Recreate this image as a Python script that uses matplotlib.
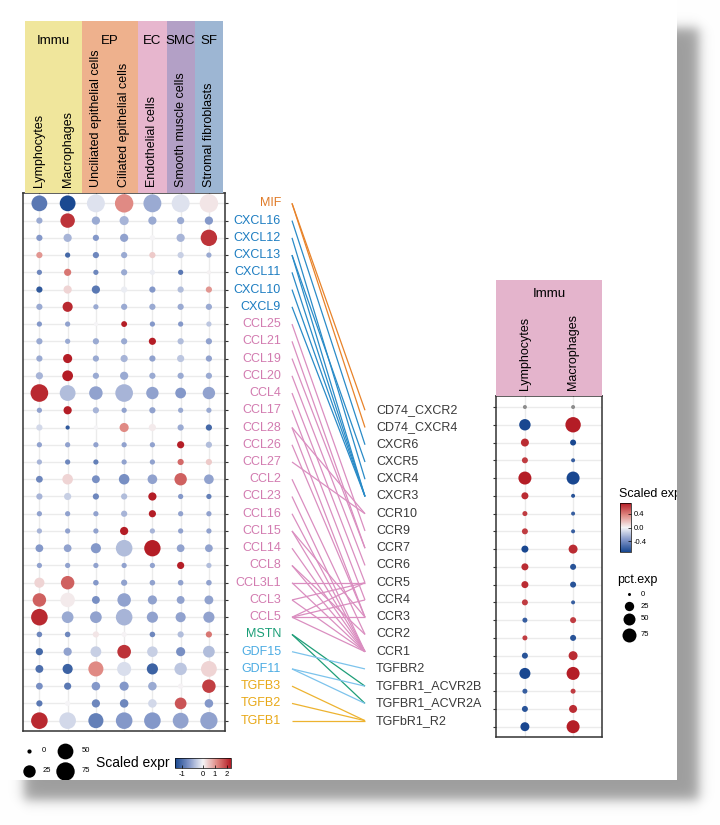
import numpy as np
import matplotlib.pyplot as plt
from matplotlib.colors import LinearSegmentedColormap, TwoSlopeNorm
from matplotlib.cm import ScalarMappable
from matplotlib.patches import Rectangle

plt.rcParams['font.family'] = ['Liberation Sans', 'DejaVu Sans']

# ---------------- dati ----------------
cell_types = ['Lymphocytes', 'Macrophages', 'Unciliated epithelial cells',
              'Ciliated epithelial cells', 'Endothelial cells',
              'Smooth muscle cells', 'Stromal fibroblasts']
cell_groups = ['Immu', 'EP', 'EC', 'SMC', 'SF']
group_size = [2, 2, 1, 1, 1]
group_colors = ['#F0E69C', '#EEB18D', '#E7B6CE', '#B3A0C6', '#9DB6D3']

ligands = ['MIF', 'CXCL16', 'CXCL12', 'CXCL13', 'CXCL11', 'CXCL10', 'CXCL9',
           'CCL25', 'CCL21', 'CCL19', 'CCL20', 'CCL4', 'CCL17', 'CCL28', 'CCL26',
           'CCL27', 'CCL2', 'CCL23', 'CCL16', 'CCL15', 'CCL14', 'CCL8', 'CCL3L1',
           'CCL3', 'CCL5', 'MSTN', 'GDF15', 'GDF11', 'TGFB3', 'TGFB2', 'TGFB1']
lig_family = ['MIF'] + ['CXCL'] * 6 + ['CCL'] * 18 + ['MSTN'] + ['GDF'] * 2 + ['TGFB'] * 3
family_text = {'MIF': '#E07B28', 'CXCL': '#1D7DC1', 'CCL': '#D27BB0',
               'MSTN': '#1A9E77', 'GDF': '#4CACE3', 'TGFB': '#E8A817'}
family_line = {'MIF': '#E8832A', 'CXCL': '#2A8BC7', 'CCL': '#DA8EC0',
               'MSTN': '#1E9E78', 'GDF': '#7CC3EC', 'TGFB': '#EDB330'}

# scaled expression (righe = ligandi, colonne = tipi cellulari)
lig_expr = [
    [-0.91, -1.30, -0.13, 1.15, -0.52, -0.13, 0.17],
    [-0.52, 2.07, -0.52, -0.45, -0.52, -0.52, -0.65],
    [-0.65, -0.45, -0.65, -0.58, 0.00, -0.45, 2.07],
    [1.03, -1.04, -0.78, -0.52, 0.46, -0.26, -0.52],
    [-0.78, 1.38, -0.78, -0.52, -0.06, -0.91, 0.05],
    [-1.17, 0.35, -0.91, -0.06, -0.65, -0.39, 1.03],
    [-0.52, 2.18, -0.52, -0.52, -0.52, -0.52, -0.52],
    [-0.65, -0.58, 0.00, 2.30, -0.65, -0.65, -0.33],
    [-0.52, -0.52, -0.52, -0.52, 2.30, -0.39, -0.58],
    [-0.52, 2.30, -0.52, -0.45, -0.58, -0.33, -0.58],
    [-0.45, 2.30, -0.52, -0.52, -0.52, -0.52, -0.52],
    [2.18, -0.39, -0.58, -0.45, -0.58, -0.65, -0.58],
    [-0.58, 2.30, -0.45, -0.58, -0.58, -0.52, -0.52],
    [-0.20, -1.17, 0.00, 1.15, 0.12, -0.52, -1.04],
    [-0.58, -0.58, -0.58, -0.58, -0.58, 2.30, -0.39],
    [-0.45, -0.78, -0.85, -0.58, -0.58, 1.50, 0.46],
    [-0.78, 0.35, -0.72, -0.72, -0.58, 1.60, -0.58],
    [-0.45, -0.26, -0.78, -0.39, 2.30, -0.65, -0.85],
    [-0.58, -0.58, -0.58, -0.45, 2.30, -0.58, -0.58],
    [-0.45, -0.58, -0.58, 2.30, -0.45, -0.58, -0.58],
    [-0.65, -0.58, -0.65, -0.39, 2.30, -0.58, -0.58],
    [-0.58, -0.58, -0.58, -0.58, -0.58, 2.30, -0.39],
    [0.35, 1.60, -0.65, -0.58, -0.58, -0.58, -0.58],
    [1.60, 0.12, -0.72, -0.58, -0.58, -0.58, -0.58],
    [2.18, -0.52, -0.58, -0.45, -0.58, -0.58, -0.58],
    [-0.78, -0.78, 0.17, 0.02, -0.78, -0.39, 1.38],
    [-1.04, -0.58, -0.26, 2.07, -0.26, -0.72, -0.39],
    [-0.98, -1.10, 1.15, -0.16, -1.10, -0.33, 0.35],
    [-0.72, -0.91, -0.65, -0.65, -0.52, 0.02, 1.95],
    [-0.91, 0.00, -0.78, -0.78, -0.20, 1.72, -0.65],
    [2.18, -0.20, -0.85, -0.65, -0.65, -0.58, -0.58],
]
# percentuale di cellule che esprimono
lig_pct = [
    [50, 50, 70, 75, 70, 70, 75],
    [1.5, 39, 6, 9, 6, 3.3, 6],
    [1.5, 6, 1.5, 6, 0.5, 6, 55],
    [1.5, 0.4, 1.5, 1.5, 1.5, 1.5, 0.4],
    [0.4, 3.3, 0.4, 1.5, 0.4, 0.4, 0],
    [1.5, 6, 6, 1.5, 1.5, 1.5, 1.5],
    [1.5, 13, 0.4, 1.5, 1.5, 1.5, 1.5],
    [0.4, 0.4, 0, 1.0, 0.4, 0.4, 0.4],
    [1.5, 0.4, 1.5, 1.5, 3.3, 1.5, 1.5],
    [1.5, 9, 1.5, 3.3, 1.5, 3.3, 1.5],
    [3.3, 16, 1.5, 6, 1.5, 1.5, 1.5],
    [67, 50, 32, 67, 25, 16, 25],
    [0.4, 6, 1.5, 0.4, 1.5, 0.4, 0.4],
    [1.5, 0, 0, 9, 3.3, 1.5, 1.5],
    [0.4, 0.4, 0.4, 0.4, 0.4, 3.3, 1.5],
    [0.4, 0.4, 0.4, 0.4, 0.4, 1.5, 1.5],
    [2.5, 15, 5, 15, 11, 25, 11],
    [1.5, 3.3, 1.5, 1.5, 6, 0.4, 0.4],
    [0.4, 0.4, 0.4, 1.5, 3.3, 0.4, 0.4],
    [0.4, 0.4, 0.4, 6, 0.4, 0.4, 0.4],
    [4.7, 4.7, 13, 57, 55, 4.7, 4.7],
    [0.4, 0.4, 0.4, 0.4, 0.4, 3.3, 0.4],
    [13, 32, 0.7, 1.5, 0.7, 0.7, 0.7],
    [32, 39, 5, 32, 9, 5, 8],
    [57, 21, 21, 57, 18, 13, 18],
    [0.7, 0.7, 1.5, 0.4, 0.7, 1.5, 1.5],
    [3.3, 6, 16, 33, 15, 9, 21],
    [5, 13, 44, 36, 18, 25, 50],
    [2.5, 3.3, 7, 9, 7, 0.4, 32],
    [1.5, 0.4, 6, 7, 7, 21, 7],
    [57, 57, 44, 57, 57, 50, 63],
]

receptors = ['CD74_CXCR2', 'CD74_CXCR4', 'CXCR6', 'CXCR5', 'CXCR4', 'CXCR3',
             'CCR10', 'CCR9', 'CCR7', 'CCR6', 'CCR5', 'CCR4', 'CCR3', 'CCR2',
             'CCR1', 'TGFBR2', 'TGFBR1_ACVR2B', 'TGFBR1_ACVR2A', 'TGFbR1_R2']
rec_cells = ['Lymphocytes', 'Macrophages']
rec_expr = [
    [np.nan, np.nan], [-0.70, 0.70], [0.65, -0.70], [0.60, -0.60], [0.70, -0.70],
    [0.65, -0.65], [0.60, -0.60], [0.60, -0.60], [-0.70, 0.65], [0.65, -0.65],
    [0.65, -0.65], [0.60, -0.60], [-0.60, 0.60], [0.60, -0.65], [-0.65, 0.65],
    [-0.70, 0.70], [-0.60, 0.60], [-0.65, 0.65], [-0.70, 0.70],
]
rec_pct = [
    [0.6, 0.6], [44, 95], [15.5, 5.6], [5.6, 0.6], [62, 62],
    [10, 0.6], [2.5, 0.6], [5.6, 0.6], [10, 22], [10, 5.6],
    [10, 5.6], [5.6, 0.6], [2.5, 5.6], [2.5, 5.6], [5.6, 22],
    [40, 62], [2.5, 2.5], [5.6, 15.5], [22, 62],
]

pairs = [
    ('MIF', 'CD74_CXCR2'), ('MIF', 'CD74_CXCR4'),
    ('CXCL16', 'CXCR6'), ('CXCL12', 'CXCR4'), ('CXCL13', 'CXCR5'), ('CXCL13', 'CXCR3'),
    ('CXCL11', 'CXCR3'), ('CXCL10', 'CXCR3'), ('CXCL9', 'CXCR3'),
    ('CCL25', 'CCR9'), ('CCL21', 'CCR7'), ('CCL19', 'CCR7'), ('CCL20', 'CCR6'),
    ('CCL4', 'CCR5'), ('CCL17', 'CCR4'), ('CCL28', 'CCR10'), ('CCL28', 'CCR3'),
    ('CCL26', 'CCR3'), ('CCL27', 'CCR10'), ('CCL2', 'CCR2'), ('CCL23', 'CCR1'),
    ('CCL16', 'CCR1'), ('CCL15', 'CCR1'), ('CCL15', 'CCR3'), ('CCL14', 'CCR1'),
    ('CCL8', 'CCR1'), ('CCL8', 'CCR2'), ('CCL3L1', 'CCR1'), ('CCL3L1', 'CCR5'),
    ('CCL3', 'CCR1'), ('CCL3', 'CCR5'), ('CCL5', 'CCR1'), ('CCL5', 'CCR3'),
    ('CCL5', 'CCR4'), ('CCL5', 'CCR5'),
    ('MSTN', 'TGFBR1_ACVR2B'), ('MSTN', 'TGFBR1_ACVR2A'),
    ('GDF15', 'TGFBR2'), ('GDF11', 'TGFBR1_ACVR2B'), ('GDF11', 'TGFBR1_ACVR2A'),
    ('TGFB3', 'TGFbR1_R2'), ('TGFB2', 'TGFbR1_R2'), ('TGFB1', 'TGFbR1_R2'),
]

size_legend = [0, 25, 50, 75]

# ---------------- stile ----------------
W, H = 720, 825
PT = 0.72  # 1 px in punti a dpi 100

cmap = LinearSegmentedColormap.from_list(
    'expr', [(0, '#17468F'), (0.25, '#8296C8'), (0.5, '#F5F5F7'),
             (0.75, '#E08A84'), (1.0, '#B31B24')])
norm_left = TwoSlopeNorm(vmin=-1.33, vcenter=0, vmax=2.33)
norm_right = TwoSlopeNorm(vmin=-0.71, vcenter=0, vmax=0.71)


def size_left(p):
    r = 2.1 + 7.1 * np.sqrt(np.asarray(p, float) / 75)
    return (2 * r * PT) ** 2


def size_right(p):
    r = 1.5 + 5.5 * np.sqrt(np.asarray(p, float) / 75)
    return (2 * r * PT) ** 2


fig = plt.figure(figsize=(W / 100, H / 100), dpi=100)


def axes_px(x0, y0, x1, y1, **kw):
    return fig.add_axes([x0 / W, 1 - y1 / H, (x1 - x0) / W, (y1 - y0) / H], **kw)


def style_dotplot(ax):
    ax.set_axisbelow(True)
    ax.grid(True, color='#EBEBEB', lw=1.0)
    for s in ax.spines.values():
        s.set_color('#333333')
        s.set_linewidth(1.1)
    ax.tick_params(length=2.2, width=0.8, color='#333333',
                   labelleft=False, labelright=False, labeltop=False, labelbottom=False)


# ---------------- dotplot sinistro ----------------
L_X0, L_X1, L_Y0, L_Y1 = 23, 225, 193, 731
xlim_l = (-0.58, 6.57)
ylim_l = (30.6, -0.6)
ax_l = axes_px(L_X0, L_Y0, L_X1, L_Y1)
xx, yy = np.meshgrid(np.arange(len(cell_types)), np.arange(len(ligands)))
ax_l.scatter(xx.ravel(), yy.ravel(), s=size_left(np.array(lig_pct).ravel()),
             c=np.array(lig_expr).ravel(), cmap=cmap, norm=norm_left,
             linewidths=0, zorder=3)
ax_l.set_xlim(*xlim_l)
ax_l.set_ylim(*ylim_l)
ax_l.set_xticks(range(len(cell_types)))
ax_l.set_yticks(range(len(ligands)))
ax_l.xaxis.tick_top()
ax_l.yaxis.tick_right()
style_dotplot(ax_l)

# intestazione sinistra
ax_h = axes_px(L_X0, 21, L_X1, L_Y0)
ax_h.set_xlim(*xlim_l)
ax_h.set_ylim(0, 1)
ax_h.axis('off')
start = 0
for g, n, col in zip(cell_groups, group_size, group_colors):
    a = max(start - 0.5, xlim_l[0])
    b = min(start + n - 0.5, xlim_l[1])
    ax_h.add_patch(Rectangle((a, 0), b - a, 1, color=col, lw=0))
    ax_h.text((a + b) / 2, 0.884, g, ha='center', va='center', fontsize=9.5)
    start += n
for k, name in enumerate(cell_types):
    ax_h.text(k, 0.035, name, rotation=90, ha='center', va='bottom', fontsize=9)

# ---------------- linee ligando-recettore ----------------
REC_OFFSET = 12
ax_m = axes_px(L_X1, L_Y0, 495, L_Y1)
ax_m.set_xlim(L_X1, 495)
ax_m.set_ylim(*ylim_l)
ax_m.axis('off')
for i, (lig, fam) in enumerate(zip(ligands, lig_family)):
    ax_m.text(281, i, lig, ha='right', va='center', fontsize=9, color=family_text[fam])
for j, rec in enumerate(receptors):
    ax_m.text(376, REC_OFFSET + j, rec, ha='left', va='center', fontsize=9, color='#3A3A3A')
for lig, rec in pairs:
    i = ligands.index(lig)
    j = receptors.index(rec)
    ax_m.plot([292, 365], [i, REC_OFFSET + j], color=family_line[lig_family[i]],
              lw=0.9, solid_capstyle='butt')

# ---------------- dotplot destro ----------------
R_X0, R_X1, R_Y0, R_Y1 = 496, 602, 396, 737
xlim_r = (-0.6, 1.6)
ax_r = axes_px(R_X0, R_Y0, R_X1, R_Y1)
rx, ry = np.meshgrid(np.arange(len(rec_cells)), np.arange(len(receptors)))
re = np.array(rec_expr, float).ravel()
rp = np.array(rec_pct, float).ravel()
na = np.isnan(re)
ax_r.scatter(rx.ravel()[~na], ry.ravel()[~na], s=size_right(rp[~na]), c=re[~na],
             cmap=cmap, norm=norm_right, linewidths=0, zorder=3)
ax_r.scatter(rx.ravel()[na], ry.ravel()[na], s=size_right(rp[na]), c='#8C8C8C',
             linewidths=0, zorder=3)
ax_r.set_xlim(*xlim_r)
ax_r.set_ylim(18.58, -0.62)
ax_r.set_xticks(range(len(rec_cells)))
ax_r.set_yticks(range(len(receptors)))
ax_r.xaxis.tick_top()
style_dotplot(ax_r)

ax_rh = axes_px(R_X0, 280, R_X1, R_Y0)
ax_rh.set_xlim(*xlim_r)
ax_rh.set_ylim(0, 1)
ax_rh.axis('off')
ax_rh.add_patch(Rectangle((xlim_r[0], 0), xlim_r[1] - xlim_r[0], 1, color='#E4B4CC', lw=0))
ax_rh.text(0.5, 0.88, 'Immu', ha='center', va='center', fontsize=9.5)
for k, name in enumerate(rec_cells):
    ax_rh.text(k, 0.05, name, rotation=90, ha='center', va='bottom', fontsize=9)

# ---------------- legende ----------------
ax_bg = fig.add_axes([0, 0, 1, 1], zorder=-1)
ax_bg.set_xlim(0, W)
ax_bg.set_ylim(H, 0)
ax_bg.axis('off')

# legenda dimensioni (sinistra)
leg_pos = [(29, 751), (29, 771), (65, 751), (65, 771)]
for v, (px, py) in zip(size_legend, leg_pos):
    ax_bg.scatter([px], [py], s=size_left(v), c='black', linewidths=0)
    ax_bg.text(px + (13 if v == 0 else 14 if v == 25 else 17), py, str(v),
               ha='left', va='center', fontsize=5.5)

ax_bg.text(170, 763, 'Scaled expr', ha='right', va='center', fontsize=10)
cax1 = axes_px(175, 758, 231, 768)
cb1 = fig.colorbar(ScalarMappable(norm=norm_left, cmap=cmap), cax=cax1,
                   orientation='horizontal', ticks=[-1, 0, 1, 2])
cb1.outline.set_linewidth(0.5)
cax1.tick_params(labelsize=5.5, length=2, width=0.5, direction='in', pad=2)
cax1.set_xticklabels(['-1', '0', '1', '2'])

# legenda destra
ax_bg.text(619, 494, 'Scaled expr', ha='left', va='center', fontsize=9)
cax2 = axes_px(620, 503, 631, 552)
cb2 = fig.colorbar(ScalarMappable(norm=norm_right, cmap=cmap), cax=cax2,
                   ticks=[-0.4, 0.0, 0.4])
cb2.outline.set_linewidth(0.5)
cax2.tick_params(labelsize=5.5, length=2, width=0.5, direction='in', pad=2)
cax2.set_yticklabels(['-0.4', '0.0', '0.4'])

ax_bg.text(617, 580, 'pct.exp', ha='left', va='center', fontsize=9)
for v, py in zip(size_legend, [594, 606, 619, 635]):
    ax_bg.scatter([629], [py], s=size_right(v), c='black', linewidths=0)
    ax_bg.text(641, py, str(v), ha='left', va='center', fontsize=5.5)

# ---------------- ombra della cornice ----------------
ax_sh = fig.add_axes([0, 0, 1, 1], zorder=10)
ax_sh.set_xlim(0, W)
ax_sh.set_ylim(H, 0)
ax_sh.axis('off')
gx, gy = np.meshgrid(np.arange(W) + 0.5, np.arange(H) + 0.5)
PX0, PY0, PX1, PY1 = 8, 12, 677, 780


def soft(t):
    return 0.5 * (1 + np.tanh(t))


sig = 7.0
inten = (soft((gx - (PX0 + 16)) / sig) * soft(((PX1 + 22) - gx) / sig) *
         soft((gy - (PY0 + 16)) / sig) * soft(((PY1 + 20) - gy) / sig))
outside = (gx > PX1) | (gy > PY1)
rgba = np.ones((H, W, 4))
rgba[..., :3] = (1 - 0.38 * inten)[..., None]
rgba[..., 3] = np.where(outside, 1.0, 0.0)
ax_sh.imshow(rgba, extent=(0, W, H, 0), interpolation='bilinear', aspect='auto')

fig.savefig('out.png', dpi=100)
